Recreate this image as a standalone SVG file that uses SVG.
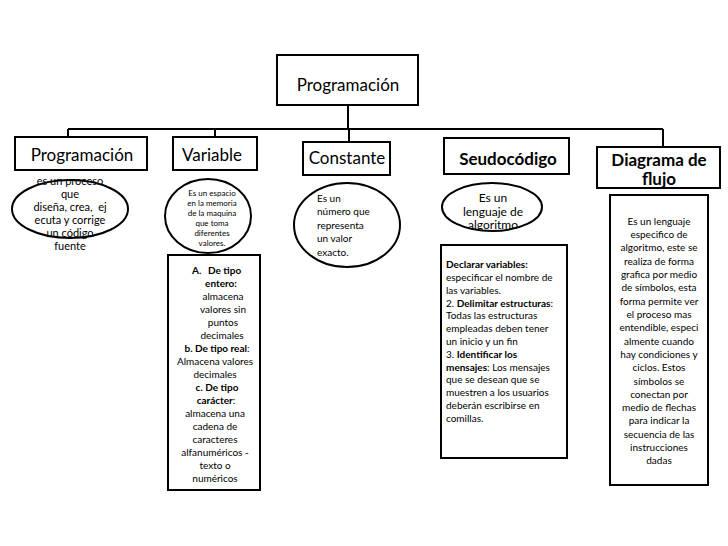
<svg xmlns="http://www.w3.org/2000/svg" width="728" height="546" viewBox="0 0 728 546">
<style>
.box{fill:#fff;stroke:#000;stroke-width:2}
.ell{fill:#fff;stroke:#000;stroke-width:2}
.con{stroke:#000;stroke-width:2;fill:none}
text{font-family:Lato,"Liberation Sans",sans-serif;fill:#000}
.t17{font-size:17px;text-anchor:middle}
.b17{font-size:17px;font-weight:bold;text-anchor:middle}
.s11{font-size:11px;text-anchor:middle}
.s8{font-size:8px;text-anchor:middle}
.s10{font-size:10px}
.c{text-anchor:middle}
.s12{font-size:12px;text-anchor:middle}
.b{font-weight:bold}
</style>
<rect width="728" height="546" fill="#fff"/>
<g id="connectors">
<path class="con" d="M348 105V129M68 129H663M68 129V137M215 129V137M349 129V142M663 129V147"/>
</g>
<g id="root">
<rect class="box" x="277" y="55" width="141" height="50"/>
<text class="t17" x="348" y="91">Programación</text>
</g>
<g id="programacion">
<rect class="box" x="15" y="137" width="132" height="33"/>
<text class="t17" x="82" y="161">Programación</text>
<ellipse class="ell" cx="70" cy="209" rx="58" ry="29"/>
<text class="s11" x="70" y="185">es un proceso</text>
<text class="s11" x="70" y="198">que</text>
<text class="s11" x="70" y="211" xml:space="preserve">diseña, crea,  ej</text>
<text class="s11" x="70" y="224">ecuta y corrige</text>
<text class="s11" x="70" y="237">un código</text>
<text class="s11" x="70" y="250">fuente</text>
</g>
<g id="variable">
<rect class="box" x="173" y="137" width="84" height="33"/>
<text class="t17" x="212" y="161">Variable</text>
<ellipse class="ell" cx="208" cy="216" rx="43" ry="37"/>
<text class="s8" x="212" y="196">Es un espacio</text>
<text class="s8" x="212" y="206">en la memoria</text>
<text class="s8" x="212" y="216">de la maquina</text>
<text class="s8" x="212" y="226">que toma</text>
<text class="s8" x="212" y="236">diferentes</text>
<text class="s8" x="212" y="246">valores.</text>
</g>
<g id="variable-tipos">
<rect class="box" x="168" y="255" width="92" height="235"/>
<text class="s10 b" x="192" y="274">A.</text>
<text class="s10 b" x="208" y="274">De tipo</text>
<text class="s10 b c" x="221" y="287">entero:</text>
<text class="s10 c" x="223" y="300">almacena</text>
<text class="s10 c" x="223" y="313">valores sin</text>
<text class="s10 c" x="223" y="326">puntos</text>
<text class="s10 c" x="222" y="339">decimales</text>
<text class="s10 c" x="217" y="352"><tspan class="b">b. De tipo real</tspan>:</text>
<text class="s10 c" x="215" y="365">Almacena valores</text>
<text class="s10 c" x="215" y="378">decimales</text>
<text class="s10 b c" x="217" y="391">c. De tipo</text>
<text class="s10 c" x="216" y="404"><tspan class="b">carácter</tspan>:</text>
<text class="s10 c" x="215" y="417">almacena una</text>
<text class="s10 c" x="215" y="430">cadena de</text>
<text class="s10 c" x="215" y="443">caracteres</text>
<text class="s10 c" x="215" y="456">alfanuméricos -</text>
<text class="s10 c" x="215" y="469">texto o</text>
<text class="s10 c" x="215" y="482">numéricos</text>
</g>
<g id="constante">
<rect class="box" x="303" y="142" width="87" height="33"/>
<text class="t17" x="347" y="164">Constante</text>
<ellipse class="ell" cx="347" cy="225" rx="53" ry="42"/>
<text class="s10" x="317" y="202">Es un</text>
<text class="s10" x="317" y="215">número que</text>
<text class="s10" x="317" y="229">representa</text>
<text class="s10" x="317" y="242">un valor</text>
<text class="s10" x="317" y="256">exacto.</text>
</g>
<g id="seudocodigo">
<rect class="box" x="444" y="138" width="125" height="36"/>
<text class="b17" x="508" y="165">Seudocódigo</text>
<ellipse class="ell" cx="492" cy="207" rx="50" ry="24"/>
<text class="s12" x="493" y="202">Es un</text>
<text class="s12" x="493" y="215.5">lenguaje de</text>
<text class="s12" x="493" y="229">algoritmo</text>
</g>
<g id="seudocodigo-pasos">
<rect class="box" x="441" y="245" width="126" height="213"/>
<text class="s10 b" x="446" y="268">Declarar variables:</text>
<text class="s10" x="446" y="281">especificar el nombre de</text>
<text class="s10" x="446" y="294">las variables.</text>
<text class="s10" x="446" y="307">2. <tspan class="b">Delimitar estructuras</tspan>:</text>
<text class="s10" x="446" y="319">Todas las estructuras</text>
<text class="s10" x="446" y="332">empleadas deben tener</text>
<text class="s10" x="446" y="345">un inicio y un fin</text>
<text class="s10" x="446" y="358">3. <tspan class="b">Identificar los</tspan></text>
<text class="s10" x="446" y="371"><tspan class="b">mensajes</tspan>: Los mensajes</text>
<text class="s10" x="446" y="383">que se desean que se</text>
<text class="s10" x="446" y="396">muestren a los usuarios</text>
<text class="s10" x="446" y="409">deberán escribirse en</text>
<text class="s10" x="446" y="422">comillas.</text>
</g>
<g id="diagrama">
<rect class="box" x="597" y="147" width="123" height="41"/>
<text class="b17" x="659" y="166">Diagrama de</text>
<text class="b17" x="659" y="185">flujo</text>
</g>
<g id="diagrama-desc">
<rect class="box" x="610" y="195" width="98" height="290"/>
<text class="s10 c" x="659" y="225">Es un lenguaje</text>
<text class="s10 c" x="659" y="238">especifico de</text>
<text class="s10 c" x="659" y="251">algoritmo, este se</text>
<text class="s10 c" x="659" y="265">realiza de forma</text>
<text class="s10 c" x="659" y="278">grafica por medio</text>
<text class="s10 c" x="659" y="291">de símbolos, esta</text>
<text class="s10 c" x="659" y="305">forma permite ver</text>
<text class="s10 c" x="659" y="318">el proceso mas</text>
<text class="s10 c" x="659" y="331">entendible, especi</text>
<text class="s10 c" x="659" y="345">almente cuando</text>
<text class="s10 c" x="659" y="358">hay condiciones y</text>
<text class="s10 c" x="659" y="371">ciclos. Estos</text>
<text class="s10 c" x="659" y="385">símbolos se</text>
<text class="s10 c" x="659" y="398">conectan por</text>
<text class="s10 c" x="659" y="411">medio de flechas</text>
<text class="s10 c" x="659" y="424">para indicar la</text>
<text class="s10 c" x="659" y="438">secuencia de las</text>
<text class="s10 c" x="659" y="451">instrucciones</text>
<text class="s10 c" x="659" y="464">dadas</text>
</g>
</svg>
